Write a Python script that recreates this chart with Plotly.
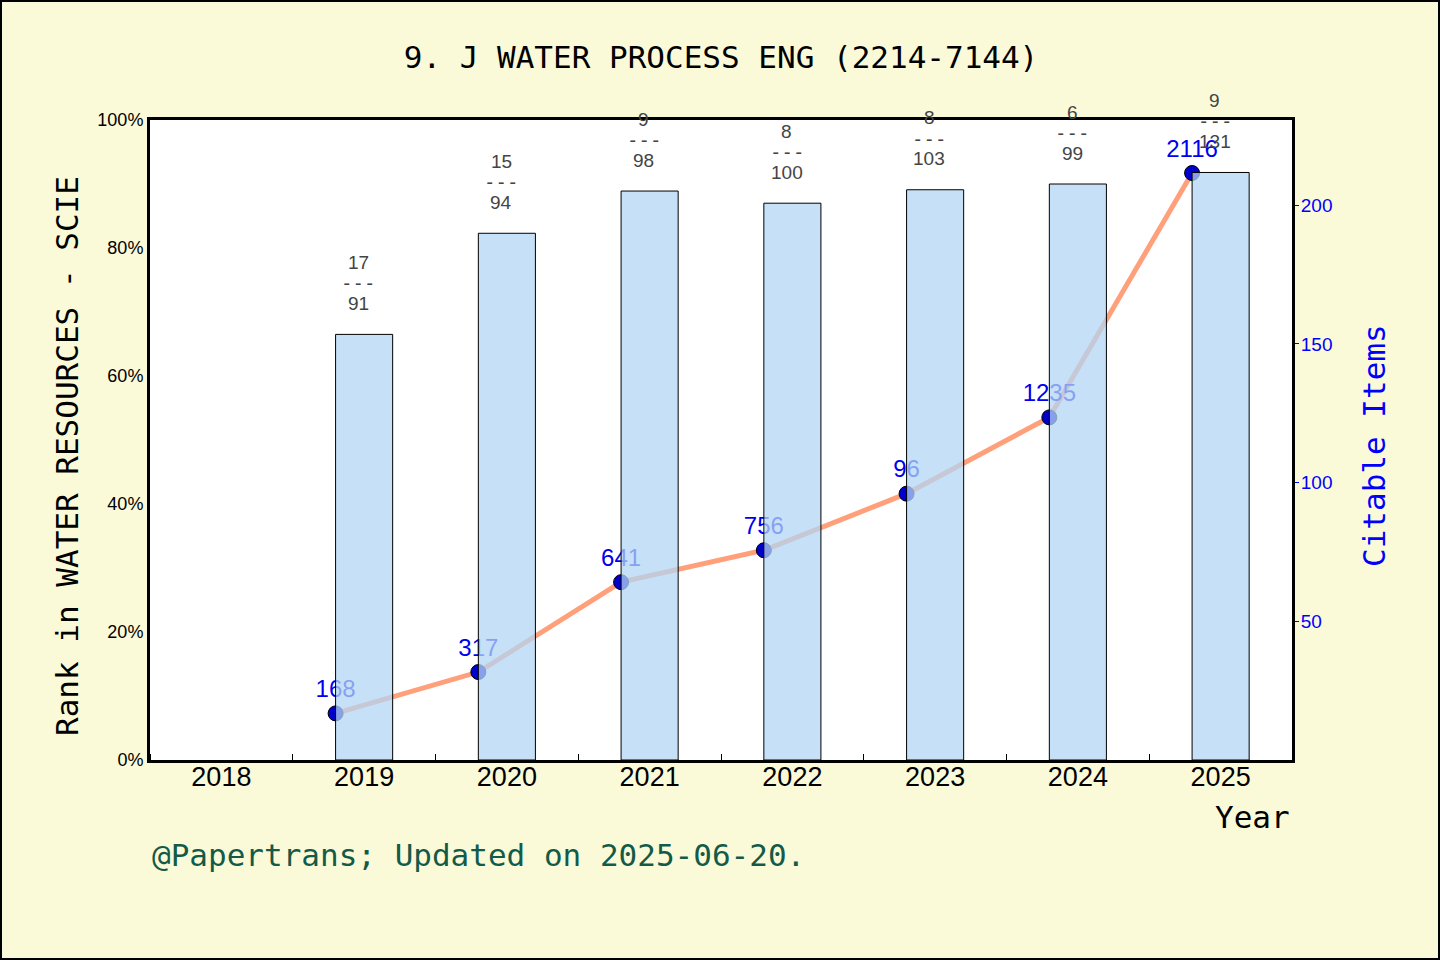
import plotly.graph_objects as go

# ---------------- data ----------------
years = [2018, 2019, 2020, 2021, 2022, 2023, 2024, 2025]
tick_labels = ["2018", "2019", "2020", "2021", "2022", "2023", "2024", "2025"]
bar_years = [2019, 2020, 2021, 2022, 2023, 2024, 2025]
rank_pct = [66.5, 82.3, 88.9, 87.0, 89.1, 90.0, 91.8]
rank_num = [17, 15, 9, 8, 8, 6, 9]
rank_total = [91, 94, 98, 100, 103, 99, 131]
citable = [16.8, 31.7, 64.1, 75.6, 96.0, 123.5, 211.6]
citable_labels = ["168", "317", "641", "756", "96", "1235", "2116"]
pct_ticks = [0, 20, 40, 60, 80, 100]
pct_labels = ["0%", "20%", "40%", "60%", "80%", "100%"]
cit_ticks = [50, 100, 150, 200]

BG = "#FAFAD9"
MONO = "DejaVu Sans Mono"
SANS = "Liberation Sans"

line_x = [y - 0.2 for y in bar_years]

fig = go.Figure()

# line (on axis 'y', drawn underneath)
fig.add_trace(go.Scatter(
    x=line_x, y=citable, yaxis="y",
    mode="lines+markers+text",
    text=citable_labels, textposition="top center",
    textfont=dict(family=SANS, size=24, color="#0000EE"),
    line=dict(color="#FFA07A", width=5),
    marker=dict(size=15, color="#0000CD", line=dict(color="black", width=1)),
    cliponaxis=False, showlegend=False,
))

# bars (on overlaying axis 'y2', drawn on top)
fig.add_trace(go.Bar(
    x=bar_years, y=rank_pct, yaxis="y2", width=0.4,
    marker=dict(color="rgba(179,214,244,0.75)", line=dict(color="black", width=1)),
    showlegend=False,
))

annotations = []
for x, v, n, t in zip(bar_years, rank_pct, rank_num, rank_total):
    for txt, sh, fam in ((str(n), 72, SANS), ("---", 51, MONO), (str(t), 31, SANS)):
        annotations.append(dict(
            x=x - 0.04, y=v, xref="x", yref="y2", text=txt, showarrow=False,
            yshift=sh, xanchor="center", yanchor="middle",
            font=dict(family=fam, size=19, color="#444444"),
        ))

annotations += [
    dict(text="Rank in WATER RESOURCES - SCIE", xref="paper", yref="paper",
         x=(67 - 150) / 1142, y=(760 - 456) / 640, textangle=-90, showarrow=False,
         xanchor="center", yanchor="middle", font=dict(family=MONO, size=31, color="black")),
    dict(text="Citable Items", xref="paper", yref="paper",
         x=(1374 - 150) / 1142, y=(760 - 446) / 640, textangle=-90, showarrow=False,
         xanchor="center", yanchor="middle", font=dict(family=MONO, size=31, color="#0000FF")),
    dict(text="Year", xref="paper", yref="paper", x=1.0, y=(760 - 817) / 640,
         showarrow=False, xanchor="right", yanchor="middle",
         font=dict(family=MONO, size=31, color="black")),
    dict(text="@Papertrans; Updated on 2025-06-20.", xref="paper", yref="paper",
         x=0.0, y=(760 - 855) / 640, showarrow=False, xanchor="left", yanchor="middle",
         font=dict(family=MONO, size=31, color="#145A48")),
]

fig.update_layout(
    width=1440, height=960,
    paper_bgcolor=BG, plot_bgcolor="white",
    margin=dict(l=150, r=148, t=120, b=200),
    title=dict(text="9. J WATER PROCESS ENG (2214-7144)", x=0.5, xref="paper",
               xanchor="center", y=1 - 57 / 960, yanchor="middle",
               font=dict(family=MONO, size=31, color="black")),
    xaxis=dict(range=[2017.5, 2025.5], tickvals=years, ticktext=tick_labels,
               ticks="", showgrid=False, zeroline=False, ticklabelstandoff=-9,
               showline=True, linecolor="black", linewidth=3, mirror=True,
               tickfont=dict(family=SANS, size=27, color="black"),
               minor=dict(tick0=2017.5, dtick=1, ticks="inside", ticklen=6,
                          tickcolor="black", tickwidth=1, showgrid=False)),
    yaxis=dict(range=[0, 230.7], side="right", tickvals=cit_ticks,
               ticks="outside", ticklen=4, tickcolor="#0000FF", showgrid=False,
               zeroline=False, showline=True, linecolor="black", linewidth=3,
               ticklabelstandoff=-2,
               tickfont=dict(family=SANS, size=19, color="#0000FF")),
    yaxis2=dict(range=[0, 100], side="left", overlaying="y",
                tickvals=pct_ticks, ticktext=pct_labels, ticks="",
                showgrid=False, zeroline=False, showline=True, linecolor="black",
                linewidth=3, tickfont=dict(family=SANS, size=18, color="black")),
    annotations=annotations,
    shapes=[dict(type="rect", xref="paper", yref="paper",
                 x0=(1 - 150) / 1142, x1=(1439 - 150) / 1142,
                 y0=(760 - 959) / 640, y1=(760 - 1) / 640,
                 line=dict(color="black", width=2), layer="below")],
)

fig.write_html("out.html")
